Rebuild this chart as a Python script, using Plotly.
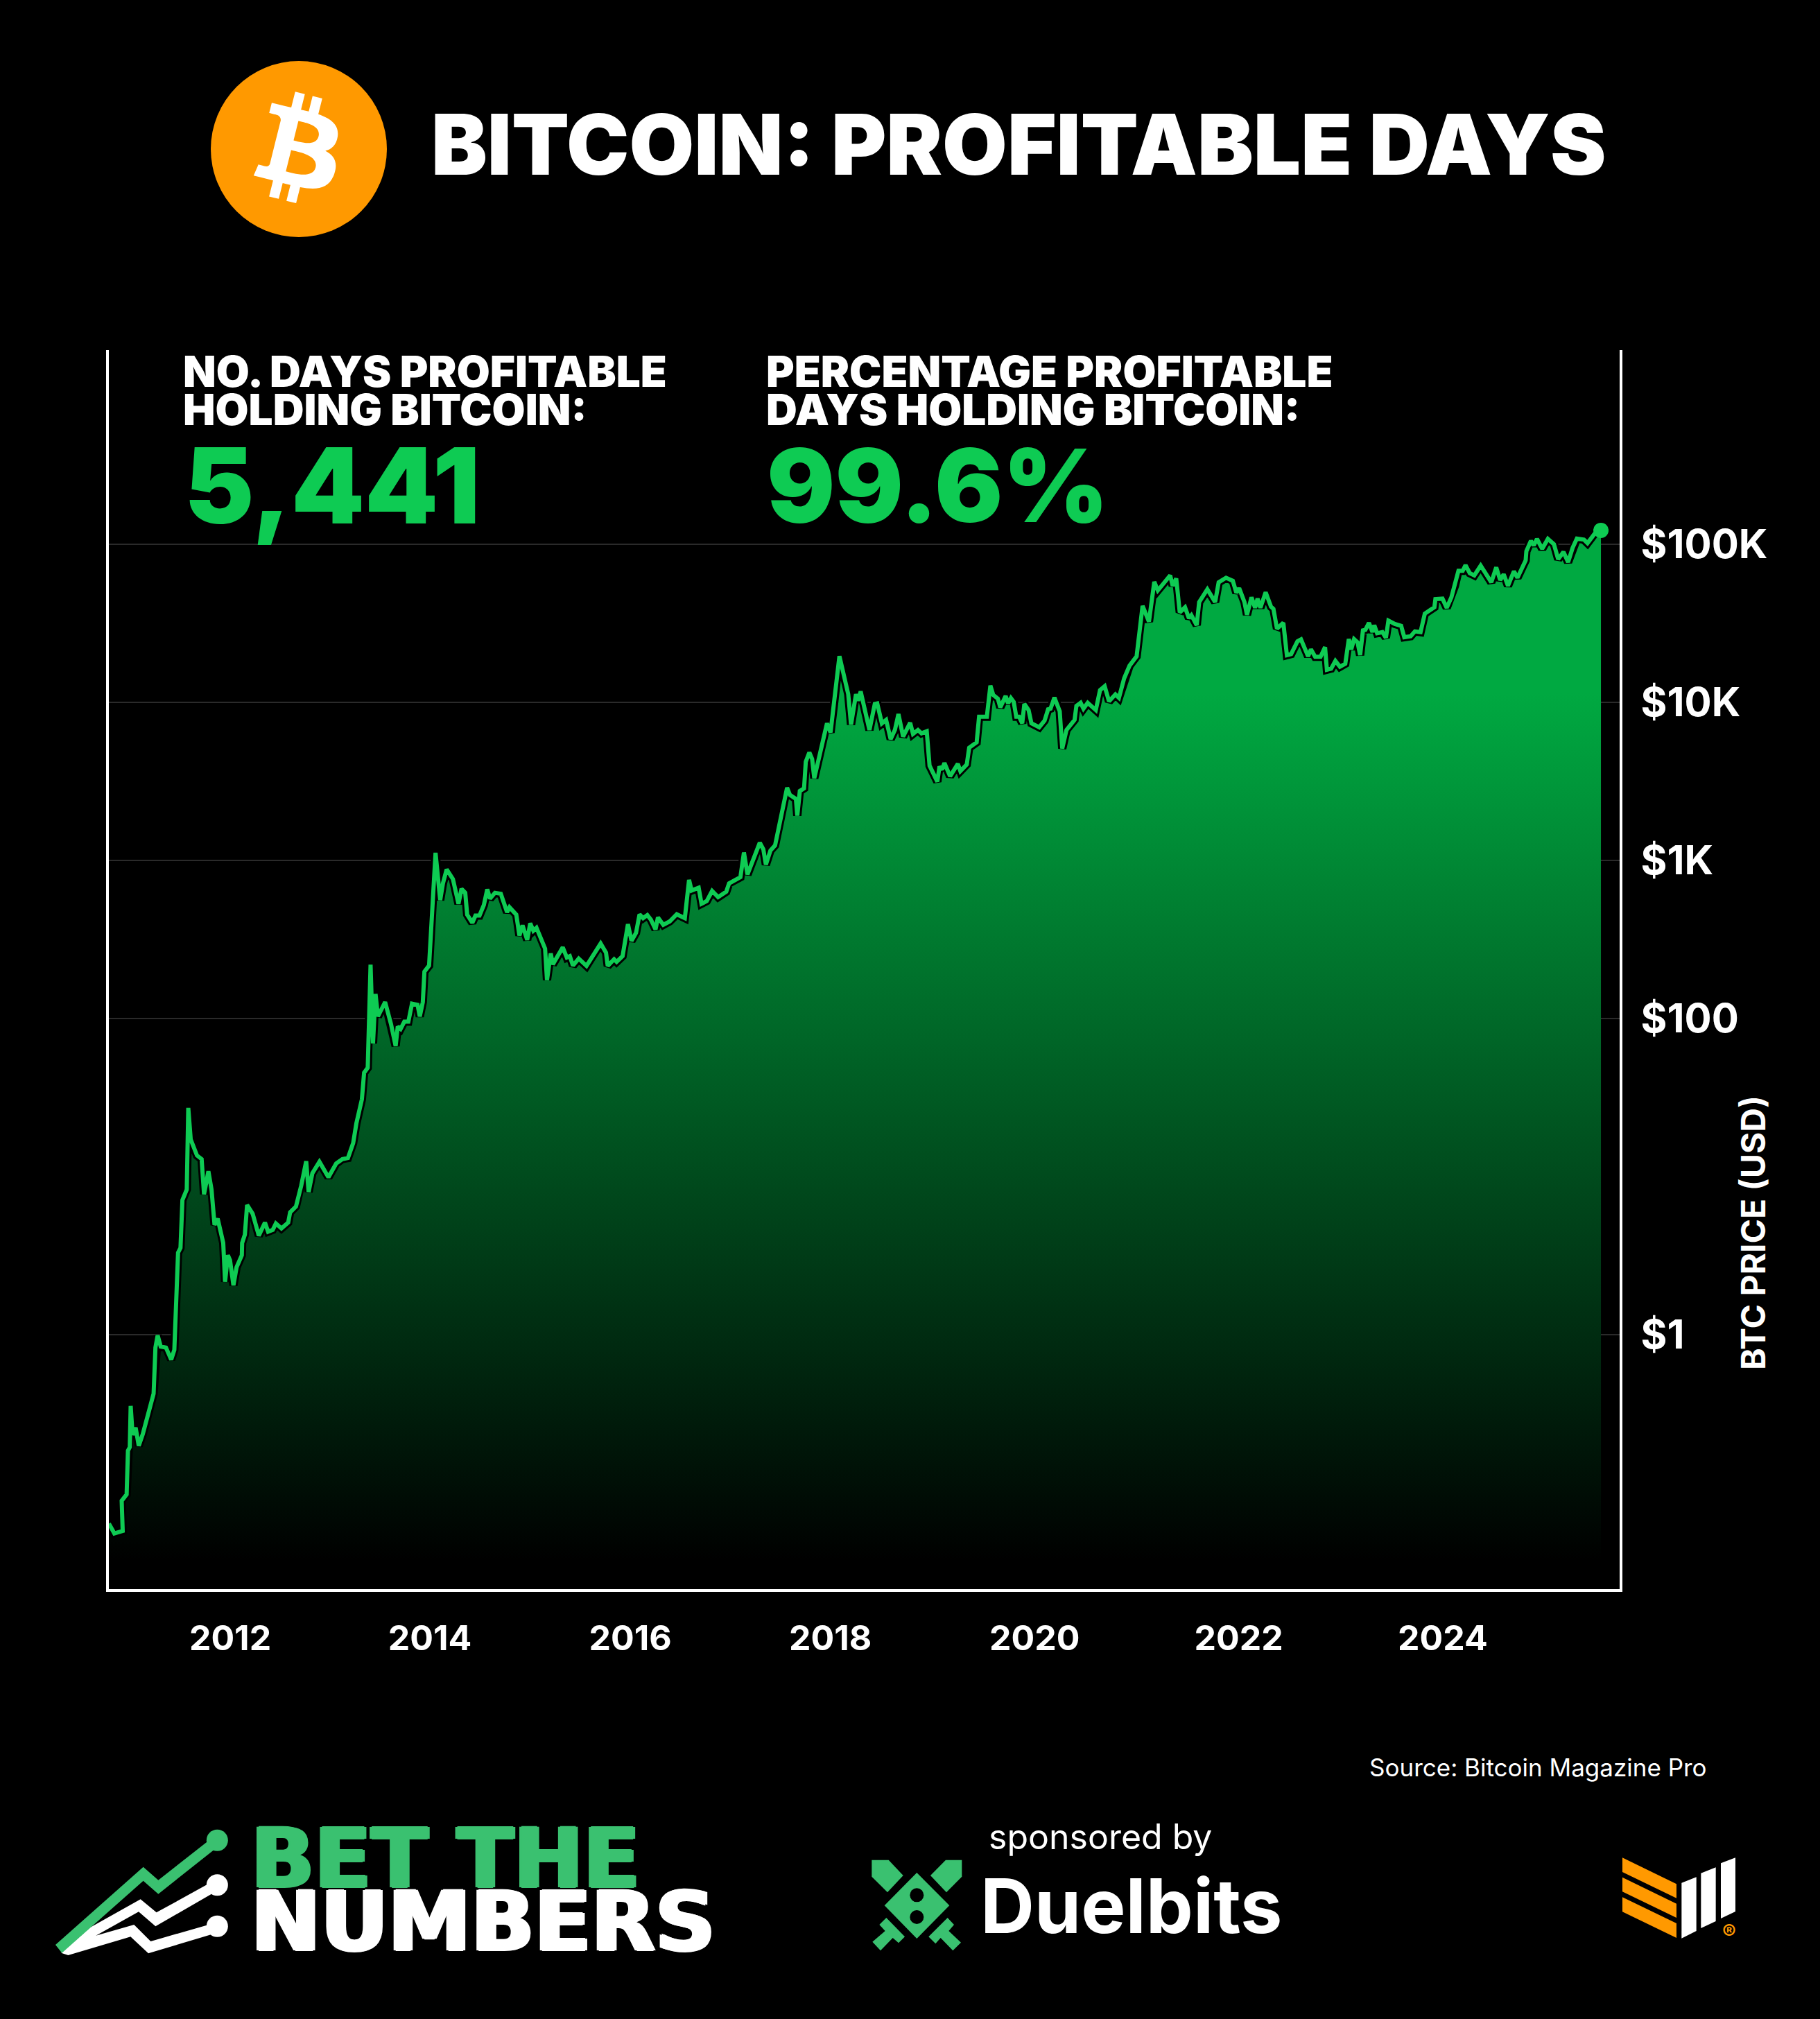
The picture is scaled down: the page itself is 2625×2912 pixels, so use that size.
import re
import plotly.graph_objects as go

# ---- data (decimal year, BTC price in USD)
years = [
    2010.799, 2010.853, 2010.936, 2010.926, 2010.975, 2010.988, 2011.006, 2011.015, 2011.034, 2011.064,
    2011.095, 2011.135, 2011.242, 2011.260, 2011.282, 2011.312, 2011.364, 2011.416, 2011.447, 2011.484,
    2011.508, 2011.527, 2011.570, 2011.585, 2011.609, 2011.671, 2011.717, 2011.741, 2011.784, 2011.815,
    2011.845, 2011.876, 2011.931, 2011.949, 2011.977, 2011.998, 2012.032, 2012.063, 2012.115, 2012.118,
    2012.145, 2012.167, 2012.222, 2012.283, 2012.344, 2012.375, 2012.421, 2012.452, 2012.507, 2012.574,
    2012.593, 2012.651, 2012.703, 2012.752, 2012.776, 2012.813, 2012.883, 2012.972, 2013.049, 2013.110,
    2013.165, 2013.217, 2013.248, 2013.303, 2013.325, 2013.361, 2013.389, 2013.413, 2013.438, 2013.462,
    2013.533, 2013.591, 2013.637, 2013.658, 2013.686, 2013.723, 2013.763, 2013.799, 2013.854, 2013.876,
    2013.906, 2013.922, 2013.968, 2014.032, 2014.078, 2014.106, 2014.142, 2014.204, 2014.259, 2014.289,
    2014.326, 2014.345, 2014.396, 2014.427, 2014.467, 2014.510, 2014.544, 2014.571, 2014.620, 2014.678,
    2014.740, 2014.764, 2014.831, 2014.862, 2014.893, 2014.939, 2014.969, 2015.000, 2015.031, 2015.116,
    2015.135, 2015.172, 2015.193, 2015.291, 2015.331, 2015.361, 2015.392,
    2015.449, 2015.526, 2015.666, 2015.719, 2015.736, 2015.799, 2015.824, 2015.883, 2015.936, 2015.971,
    2016.016, 2016.051, 2016.086, 2016.128, 2016.163, 2016.209, 2016.233, 2016.286, 2016.349, 2016.419,
    2016.499, 2016.541, 2016.566, 2016.636, 2016.664, 2016.716, 2016.769, 2016.828, 2016.909, 2016.937,
    2017.049, 2017.084, 2017.119, 2017.241, 2017.276, 2017.301, 2017.346, 2017.392, 2017.511, 2017.539,
    2017.598, 2017.612, 2017.637, 2017.679, 2017.696, 2017.731, 2017.759, 2017.780, 2017.906, 2017.941,
    2017.976, 2018.029, 2018.116, 2018.144, 2018.193, 2018.214, 2018.239, 2018.326, 2018.379, 2018.403,
    2018.449, 2018.491, 2018.536, 2018.578, 2018.613, 2018.659, 2018.729, 2018.757, 2018.806, 2018.841,
    2018.893, 2018.921, 2018.998, 2019.019, 2019.044, 2019.068, 2019.124, 2019.201, 2019.226, 2019.289,
    2019.313, 2019.387, 2019.411, 2019.488, 2019.523, 2019.551, 2019.597, 2019.621, 2019.674, 2019.698,
    2019.726, 2019.754, 2019.779, 2019.807, 2019.838, 2019.859, 2019.901, 2019.929, 2020.006, 2020.059,
    2020.094, 2020.118, 2020.157, 2020.209, 2020.234, 2020.276, 2020.356, 2020.374, 2020.416, 2020.444,
    2020.486, 2020.566, 2020.608, 2020.654, 2020.697, 2020.760, 2020.795, 2020.847, 2020.900, 2020.970,
    2021.029, 2021.092, 2021.145, 2021.180, 2021.302, 2021.327, 2021.362, 2021.397, 2021.449, 2021.488,
    2021.512, 2021.565, 2021.589, 2021.670, 2021.747, 2021.782, 2021.855, 2021.922, 2021.957, 2021.985,
    2022.037, 2022.062, 2022.107, 2022.142, 2022.167, 2022.195, 2022.247, 2022.300, 2022.324, 2022.359,
    2022.422, 2022.457, 2022.499, 2022.562, 2022.597, 2022.667, 2022.695, 2022.737, 2022.790, 2022.835,
    2022.853, 2022.895, 2022.937, 2022.982, 2023.035, 2023.070, 2023.094, 2023.122, 2023.157, 2023.182,
    2023.210, 2023.234, 2023.269, 2023.304, 2023.322, 2023.350, 2023.402, 2023.437, 2023.462, 2023.525,
    2023.588, 2023.619, 2023.682, 2023.724, 2023.780, 2023.822, 2023.917, 2023.927, 2023.997, 2024.039,
    2024.085, 2024.120, 2024.155, 2024.197, 2024.225, 2024.267, 2024.312, 2024.375, 2024.480, 2024.529,
    2024.568, 2024.603, 2024.645, 2024.704, 2024.739, 2024.820, 2024.827, 2024.872, 2024.900, 2024.932,
    2024.984, 2025.040, 2025.065, 2025.100, 2025.142, 2025.194, 2025.240, 2025.285, 2025.327, 2025.397,
    2025.432, 2025.502, 2025.565,
]
prices = [
    0.0638, 0.0553, 0.0573, 0.0889, 0.0975, 0.1845, 0.194, 0.354, 0.232, 0.258,
    0.198, 0.235, 0.423, 0.828, 0.989, 0.841, 0.828, 0.695, 0.80, 3.30,
    3.54, 7.10, 8.28, 27.2, 17.2, 13.6, 12.9, 7.73, 10.8, 8.28,
    4.94, 5.42, 3.80, 2.16, 3.18, 2.96, 2.05, 2.67, 3.18, 3.80,
    4.29, 6.61, 5.82, 4.23, 5.12, 4.48, 4.60, 5.05, 4.70, 5.12,
    5.94, 6.47, 8.77, 12.5, 8.0, 10.5, 12.4, 9.89, 12.1, 12.9,
    13.1, 16.3, 21.6, 30.8, 45.4, 48.8, 219, 69.5, 143, 103,
    127, 92.3, 67, 88.9, 85.9, 95.5, 95.5, 124, 122, 103,
    127, 198, 216, 1117, 561, 719, 877, 762, 531, 661,
    624, 454, 403, 448, 448, 522, 656, 573, 624, 615,
    470, 505, 454, 335, 388, 314, 400, 359, 375, 277,
    175, 258, 220, 282, 243, 248, 216,
    239, 215, 298, 261, 215, 237, 228, 248, 395, 310,
    348, 456, 431, 451, 422, 366, 436, 391, 411, 456,
    431, 753, 645, 671, 532, 553, 641, 586, 634, 716,
    783, 1122, 815, 1294, 1175, 940, 1153, 1245, 2884, 2594,
    2449, 1919, 2748, 2858, 4207, 4819, 4375, 3311, 7362, 6442,
    9840, 19590, 11270, 7228, 11270, 10230, 11720, 6683, 9772, 9840,
    7362, 7745, 5848, 6683, 8433, 6067, 7430, 6310, 6683, 6368,
    6561, 3972, 3148, 3926, 3750, 4130, 3404, 4083, 3673, 4046,
    5164, 5585, 8110, 8110, 12760, 11140, 10540, 9290, 10960, 9840,
    10640, 10050, 8110, 8110, 7362, 9772, 8933, 7362, 6950, 7656,
    9036, 9120, 10720, 8770, 5105, 6683, 7745, 9484, 9931, 9120,
    9931, 8933, 11940, 12650, 10140, 11220, 10670, 14190, 17060, 19540,
    40740, 32360, 57810, 51050, 63530, 54580, 60810, 37070, 39900, 34040,
    35560, 30760, 43050, 51880, 43050, 57410, 61380, 58750, 49320, 52720,
    43050, 35810, 46130, 39630, 45290, 39630, 49660, 40270, 38990, 29240,
    31840, 19860, 20180, 24320, 25000, 19540, 21630, 19410, 19410, 22340,
    16070, 16330, 18280, 16790, 17540, 25120, 21630, 25120, 23930, 19860,
    28510, 28770, 31840, 27800, 30760, 27350, 27800, 25590, 32890, 31330,
    30480, 25820, 26180, 28120, 27800, 36390, 39990, 44980, 45290, 39630,
    46130, 54580, 67920, 67920, 73790, 65610, 63530, 73280, 57410, 71450,
    59290, 64570, 54580, 67450, 61380, 79070, 90360, 105200, 98400, 108100,
    93540, 108100, 105200, 100000, 80350, 89540, 77090, 95060, 108600, 106900,
    101600, 116400, 122500,
]
y_ticks = [1, 100, 1000, 10000, 100000]
y_labels = ['$1', '$100', '$1K', '$10K', '$100K']
x_ticks = [2012.0, 2013.976, 2015.96, 2017.94, 2019.96, 2021.98, 2024.0]
x_labels = ['2012', '2014', '2016', '2018', '2020', '2022', '2024']

GREEN = '#0ECB53'
LOGO_GREEN = '#3AC170'
ORANGE = '#FF9900'
FONT = 'Inter'

# plot box in page pixels
L, R, T, B = 157, 2336, 505, 2292


def px(x):
    return (x - L) / (R - L)


def py(y):
    return (B - y) / (B - T)


def poly(points):
    return 'M ' + ' L '.join(f'{px(x):.5f} {py(y):.5f}' for x, y in points) + ' Z'


def svg_to_page(d, ox, oy, scale):
    # relative svg path -> absolute path in paper units
    tokens = re.findall(r'[a-zA-Z]|-?\d*\.?\d+', d)
    out, i, cx, cy, sx, sy, cmd = [], 0, 0.0, 0.0, 0.0, 0.0, ''

    def pt(u, v):
        return f'{px(ox + u * scale):.5f} {py(oy + v * scale):.5f}'

    while i < len(tokens):
        if tokens[i].isalpha():
            cmd = tokens[i]
            i += 1
            if cmd in 'zZ':
                out.append('Z')
                cx, cy = sx, sy
            continue
        n = {'m': 2, 'l': 2, 'h': 1, 'v': 1, 'c': 6, 's': 4}[cmd.lower()]
        vals = [float(t) for t in tokens[i:i + n]]
        i += n
        rel = cmd.islower()
        low = cmd.lower()
        if low == 'h':
            cx = cx + vals[0] if rel else vals[0]
            out.append('L ' + pt(cx, cy))
        elif low == 'v':
            cy = cy + vals[0] if rel else vals[0]
            out.append('L ' + pt(cx, cy))
        else:
            abs_pts = []
            for k in range(0, n, 2):
                abs_pts.append((vals[k] + (cx if rel else 0), vals[k + 1] + (cy if rel else 0)))
            out.append({'m': 'M', 'l': 'L', 'c': 'C', 's': 'S'}[low] + ' ' + ' '.join(pt(*p) for p in abs_pts))
            cx, cy = abs_pts[-1]
            if low == 'm':
                sx, sy = cx, cy
                cmd = 'l' if rel else 'L'
    return ' '.join(out)


fig = go.Figure()

# area
fig.add_trace(go.Scatter(
    x=years, y=prices, mode='none', fill='tozeroy',
    fillgradient=dict(type='vertical', start=10 ** -1.43, stop=10 ** 4.06,
                      colorscale=[[0, '#000000'], [1, '#00A941']]),
    hoverinfo='skip'
))
# black casing + line
fig.add_trace(go.Scatter(x=years, y=prices, mode='lines', line=dict(color='#000000', width=12), hoverinfo='skip'))
fig.add_trace(go.Scatter(x=years, y=prices, mode='lines', line=dict(color=GREEN, width=6)))
fig.add_trace(go.Scatter(x=years[-1:], y=prices[-1:], mode='markers', marker=dict(color=GREEN, size=22)))

shapes = []


def filled(points, color):
    shapes.append(dict(type='path', xref='paper', yref='paper', path=poly(points),
                       fillcolor=color, line=dict(width=0), layer='above'))


def circle(cx, cy, r, color):
    shapes.append(dict(type='circle', xref='paper', yref='paper', x0=px(cx - r), x1=px(cx + r),
                       y0=py(cy + r), y1=py(cy - r), fillcolor=color, line=dict(width=0), layer='above'))


# bitcoin logo
circle(431, 215, 127, ORANGE)
B_GLYPH = ('M46.11 27.441c.636-4.258-2.606-6.547-7.039-8.074l1.438-5.768-3.512-.875-1.4 5.616c-.922-.23-1.87-.447-2.812-.662'
           'l1.41-5.653-3.509-.875-1.439 5.766c-.764-.174-1.514-.346-2.242-.527l.004-.018-4.842-1.209-.934 3.75'
           's2.605.597 2.55.634c1.422.355 1.68 1.296 1.636 2.042l-1.638 6.571c.098.025.225.061.365.117l-.37-.092-2.297 9.205'
           'c-.174.432-.615 1.08-1.609.834.035.051-2.552-.637-2.552-.637l-1.743 4.02 4.57 1.139c.85.213 1.683.436 2.502.646'
           'l-1.453 5.835 3.507.875 1.44-5.772c.957.26 1.887.5 2.797.726L27.504 50.8l3.511.875 1.453-5.823'
           'c5.987 1.133 10.49.676 12.383-4.738 1.527-4.36-.075-6.875-3.225-8.516 2.294-.531 4.022-2.04 4.483-5.157z'
           'M38.087 38.69c-1.086 4.36-8.426 2.004-10.807 1.412l1.928-7.729c2.38.594 10.011 1.77 8.88 6.317z'
           'm1.085-11.312c-.99 3.966-7.1 1.951-9.083 1.457l1.748-7.01c1.983.494 8.367 1.416 7.335 5.553z')
shapes.append(dict(type='path', xref='paper', yref='paper', fillcolor='white', line=dict(width=0), layer='above',
                   path=svg_to_page(B_GLYPH, 431 - 32 * 3.97, 215 - 32 * 3.97, 3.97)))


# bet the numbers icon (zoom coords: 3 units per pixel)
def z6(pts):
    return [(60 + x / 3, 2620 + y / 3) for x, y in pts]


filled(z6([(85, 590), (210, 480), (428, 358), (497, 415), (715, 295), (735, 335), (493, 475), (420, 412), (235, 515),
           (400, 468), (472, 540), (715, 470), (735, 510), (462, 592), (385, 520), (115, 600)]), 'white')
filled(z6([(60, 555), (440, 218), (505, 275), (715, 110), (745, 145), (505, 335), (440, 278), (88, 590)]), LOGO_GREEN)
circle(60 + 760 / 3, 2620 + 103 / 3, 15.5, LOGO_GREEN)
circle(60 + 760 / 3, 2620 + 296 / 3, 15.5, 'white')
circle(60 + 760 / 3, 2620 + 475 / 3, 15.5, 'white')


# duelbits icon
def z7(pts):
    return [(1240 + x / 3, 2670 + y / 3) for x, y in pts]


filled(z7([(52, 38), (125, 38), (188, 105), (120, 178), (52, 110)]), LOGO_GREEN)
filled(z7([(372, 38), (442, 38), (442, 110), (375, 178), (306, 105)]), LOGO_GREEN)
filled(z7([(247, 93), (388, 235), (247, 378), (107, 235)]), LOGO_GREEN)
filled(z7([(115, 288), (195, 370), (168, 397), (143, 375), (90, 430), (55, 392), (110, 345), (85, 318)]), LOGO_GREEN)
filled(z7([(380, 288), (408, 318), (385, 345), (438, 395), (403, 430), (350, 375), (328, 400), (298, 370)]), LOGO_GREEN)
circle(1240 + 247 / 3, 2670 + 190 / 3, 10, 'black')
circle(1240 + 247 / 3, 2670 + 285 / 3, 10, 'black')


# orange/white mark bottom right
def z8(pts):
    return [(2320 + x / 3, 2660 + y / 3) for x, y in pts]


for band in ([(60, 58), (294, 172), (294, 233), (60, 120)],
             [(60, 143), (294, 257), (294, 318), (60, 205)],
             [(60, 229), (294, 342), (294, 405), (60, 292)]):
    filled(z8(band), ORANGE)
for bar in ([(316, 167), (380, 142), (380, 375), (316, 407)],
            [(400, 125), (464, 100), (464, 333), (400, 363)],
            [(486, 82), (549, 58), (549, 291), (486, 321)]):
    filled(z8(bar), 'white')

annotations = []


def text(s, x, y, size, color='white', weight=700, family=FONT, anchor='left', angle=0, shadow=None):
    font = dict(family=family, size=size, color=color, weight=weight)
    if shadow:
        font['shadow'] = shadow
    annotations.append(dict(text=s, x=px(x), y=py(y), xref='paper', yref='paper', showarrow=False,
                            xanchor=anchor, yanchor='middle', textangle=angle, font=font))


text('BITCOIN: PROFITABLE DAYS', 620, 208, 121, weight=900)
text('NO. DAYS PROFITABLE', 262, 535, 62, weight=900)
text('HOLDING BITCOIN:', 262, 590, 62, weight=900)
text('PERCENTAGE PROFITABLE', 1103, 535, 62, weight=900)
text('DAYS HOLDING BITCOIN:', 1103, 590, 62, weight=900)
text('5,441', 264, 700, 151, color=GREEN, weight=900)
text('99.6%', 1104, 700, 146, color=GREEN, weight=900)
text('BTC PRICE (USD)', 2528, 1778, 48, weight=700, anchor='center', angle=-90)
text('Source: Bitcoin Magazine Pro', 1973, 2549, 35, weight=400)
bold_out = '3px 0 0 {0}, -3px 0 0 {0}, 0 1px 0 {0}, 0 -1px 0 {0}'
text('BET THE', 360, 2680, 120, color=LOGO_GREEN, weight=700, family='DejaVu Sans', shadow=bold_out.format(LOGO_GREEN))
text('NUMBERS', 360, 2771, 120, weight=700, family='DejaVu Sans', shadow=bold_out.format('#ffffff'))
text('sponsored by', 1424, 2649, 50, weight=400)
text('Duelbits', 1412, 2748, 108, weight=700)
text('®', 2494, 2786, 30, color=ORANGE, weight=700, anchor='center')

fig.update_layout(
    width=2625, height=2912, autosize=False,
    margin=dict(l=L, r=2625 - R, t=T, b=2912 - B),
    paper_bgcolor='black', plot_bgcolor='black',
    showlegend=False,
    shapes=shapes, annotations=annotations,
    xaxis=dict(
        range=[2010.799, 2025.75], tickvals=x_ticks, ticktext=x_labels,
        showgrid=False, zeroline=False, showline=True, linecolor='white', linewidth=4,
        ticklabelstandoff=24, tickfont=dict(family=FONT, size=50, color='white', weight=700)
    ),
    yaxis=dict(
        type='log', side='right', range=[-1.61, 6.228], tickvals=y_ticks, ticktext=y_labels,
        gridcolor='#2a2a2a', gridwidth=2, zeroline=False,
        showline=True, mirror=True, linecolor='white', linewidth=4,
        ticklabelstandoff=15, tickfont=dict(family=FONT, size=58, color='white', weight=700)
    ),
)

fig.write_html("out.html", config={'displayModeBar': False}, post_script="document.body.style.margin='0';")
